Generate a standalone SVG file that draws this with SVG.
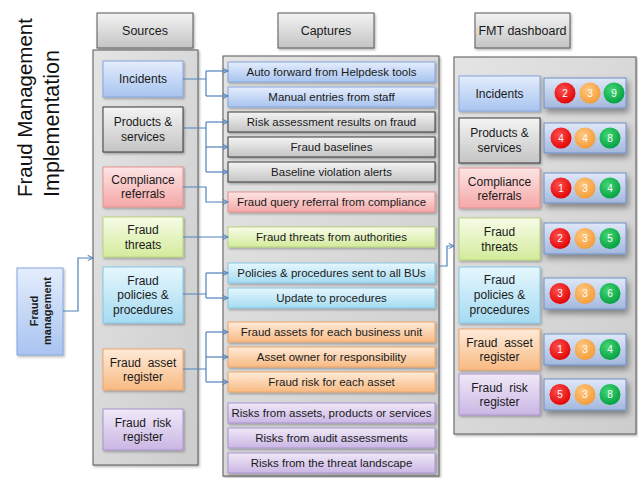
<svg xmlns="http://www.w3.org/2000/svg" width="638" height="478" viewBox="0 0 638 478">
<defs>
<style>
text{font-family:"Liberation Sans",Arial,sans-serif;fill:#1a1a1a;}
.t{font-size:12px;text-anchor:middle;}
.c{font-size:11.5px;text-anchor:middle;}
.h{font-size:12.5px;text-anchor:middle;}
.n{font-size:10px;text-anchor:middle;fill:#fff;}
.title{fill:#111;}
.cont{fill:url(#gCont);stroke:#595959;stroke-width:1;filter:url(#sh);}
.hdr{fill:url(#gHdr);stroke:#595959;stroke-width:1;filter:url(#sh);}
.b{fill:url(#gB);stroke:#86a6dc;filter:url(#sh);}
.g{fill:url(#gG);stroke:#3a3a3a;filter:url(#sh);}
.r{fill:url(#gR);stroke:#e59191;filter:url(#sh);}
.gr{fill:url(#gGr);stroke:#b8d67f;filter:url(#sh);}
.cy{fill:url(#gC);stroke:#85c7e5;filter:url(#sh);}
.o{fill:url(#gO);stroke:#eea66a;filter:url(#sh);}
.p{fill:url(#gP);stroke:#aa94cf;filter:url(#sh);}
.ind{fill:url(#gInd);stroke:#6f8fc4;filter:url(#sh2);}
.cr{fill:url(#gRed);}
.co{fill:url(#gOra);}
.cg{fill:url(#gGrn);}
.ln{fill:none;stroke:#4f81bd;stroke-width:1.2;}
.ar{fill:none;stroke:#4f81bd;stroke-width:1.2;marker-end:url(#arr);}
</style>
<linearGradient id="gCont" x1="0" y1="0" x2="1" y2="1"><stop offset="0" stop-color="#e4e4e4"/><stop offset="1" stop-color="#cdcdcd"/></linearGradient>
<linearGradient id="gHdr" x1="0" y1="0" x2="0" y2="1"><stop offset="0" stop-color="#f3f3f3"/><stop offset="1" stop-color="#c4c4c4"/></linearGradient>
<linearGradient id="gB" x1="0" y1="0" x2="0" y2="1"><stop offset="0" stop-color="#e4edfc"/><stop offset="1" stop-color="#a8c4f0"/></linearGradient>
<linearGradient id="gG" x1="0" y1="0" x2="0" y2="1"><stop offset="0" stop-color="#f4f4f4"/><stop offset="1" stop-color="#c4c4c4"/></linearGradient>
<linearGradient id="gR" x1="0" y1="0" x2="0" y2="1"><stop offset="0" stop-color="#fde5e5"/><stop offset="1" stop-color="#f5a7a7"/></linearGradient>
<linearGradient id="gGr" x1="0" y1="0" x2="0" y2="1"><stop offset="0" stop-color="#f7fce8"/><stop offset="1" stop-color="#d3eb9b"/></linearGradient>
<linearGradient id="gC" x1="0" y1="0" x2="0" y2="1"><stop offset="0" stop-color="#e6f7fd"/><stop offset="1" stop-color="#a5dbf2"/></linearGradient>
<linearGradient id="gO" x1="0" y1="0" x2="0" y2="1"><stop offset="0" stop-color="#feebd9"/><stop offset="1" stop-color="#f8ba83"/></linearGradient>
<linearGradient id="gP" x1="0" y1="0" x2="0" y2="1"><stop offset="0" stop-color="#f0e9f8"/><stop offset="1" stop-color="#cab6e4"/></linearGradient>
<linearGradient id="gInd" x1="0" y1="0" x2="0" y2="1"><stop offset="0" stop-color="#dfe8f8"/><stop offset="1" stop-color="#a4b8dd"/></linearGradient>
<radialGradient id="gRed" cx="0.4" cy="0.35" r="0.7"><stop offset="0" stop-color="#ff5050"/><stop offset="1" stop-color="#e00000"/></radialGradient>
<radialGradient id="gOra" cx="0.4" cy="0.35" r="0.7"><stop offset="0" stop-color="#ffc880"/><stop offset="1" stop-color="#f39a35"/></radialGradient>
<radialGradient id="gGrn" cx="0.4" cy="0.35" r="0.7"><stop offset="0" stop-color="#45d673"/><stop offset="1" stop-color="#009e40"/></radialGradient>
<filter id="sh" x="-10%" y="-10%" width="130%" height="130%"><feDropShadow dx="1.2" dy="1.5" stdDeviation="1" flood-color="#000" flood-opacity="0.3"/></filter>
<filter id="sh2" x="-20%" y="-30%" width="150%" height="190%"><feDropShadow dx="2" dy="4" stdDeviation="3" flood-color="#000" flood-opacity="0.4"/></filter>
<marker id="arr" viewBox="0 0 8 8" refX="7" refY="4" markerWidth="7" markerHeight="7" markerUnits="userSpaceOnUse" orient="auto"><path d="M1,1 L7,4 L1,7" fill="none" stroke="#4f81bd" stroke-width="1.2"/></marker>
</defs>
<rect width="638" height="478" fill="#fff"/>

<g id="title">
<text class="title" transform="translate(32,197) rotate(-90)" style="font-size:20.5px">Fraud Management</text>
<text class="title" transform="translate(59,197) rotate(-90)" style="font-size:21.5px">Implementation</text>
</g>

<g id="fraud-management">
<rect class="b" x="17" y="268" width="46" height="87"/>
<text transform="translate(38,311) rotate(-90)" style="font-size:11px;font-weight:bold;text-anchor:middle">Fraud</text>
<text transform="translate(51,311) rotate(-90)" style="font-size:11px;font-weight:bold;text-anchor:middle">management</text>
</g>

<!-- Sources column -->
<g id="sources-header"><rect class="hdr" x="97" y="13" width="96" height="35"/><text class="h" x="145" y="35">Sources</text></g>
<g id="sources"><rect class="cont" x="93" y="50" width="105" height="415"/></g>
<g id="src-incidents"><rect class="b" x="103" y="61" width="80" height="36"/><text class="t" x="143" y="83">Incidents</text></g>
<g id="src-products"><rect class="g" x="103" y="107" width="80" height="45"/><text class="t" x="143" y="126">Products &amp;</text><text class="t" x="143" y="141">services</text></g>
<g id="src-compliance"><rect class="r" x="103" y="167" width="80" height="40"/><text class="t" x="143" y="184">Compliance</text><text class="t" x="143" y="198">referrals</text></g>
<g id="src-threats"><rect class="gr" x="103" y="217" width="80" height="40"/><text class="t" x="143" y="234">Fraud</text><text class="t" x="143" y="249">threats</text></g>
<g id="src-policies"><rect class="cy" x="103" y="267" width="80" height="56"/><text class="t" x="143" y="285">Fraud</text><text class="t" x="143" y="299">policies &amp;</text><text class="t" x="143" y="314">procedures</text></g>
<g id="src-asset"><rect class="o" x="103" y="349" width="80" height="41"/><text class="t" x="143" y="367" xml:space="preserve">Fraud  asset</text><text class="t" x="143" y="381">register</text></g>
<g id="src-risk"><rect class="p" x="103" y="409" width="80" height="41"/><text class="t" x="143" y="427" xml:space="preserve">Fraud  risk</text><text class="t" x="143" y="441">register</text></g>

<!-- Captures column -->
<g id="captures-header"><rect class="hdr" x="278" y="13" width="96" height="35"/><text class="h" x="326" y="35">Captures</text></g>
<g id="captures"><rect class="cont" x="223" y="56" width="216" height="420"/></g>
<g id="cap-1"><rect class="b" x="228" y="62" width="207" height="20"/><text class="c" x="331.5" y="76">Auto forward from Helpdesk tools</text></g>
<g id="cap-2"><rect class="b" x="228" y="87" width="207" height="20"/><text class="c" x="331.5" y="101">Manual entries from staff</text></g>
<g id="cap-3"><rect class="g" x="228" y="112" width="207" height="20"/><text class="c" x="331.5" y="126">Risk assessment results on fraud</text></g>
<g id="cap-4"><rect class="g" x="228" y="137" width="207" height="20"/><text class="c" x="331.5" y="151">Fraud baselines</text></g>
<g id="cap-5"><rect class="g" x="228" y="162" width="207" height="20"/><text class="c" x="331.5" y="176">Baseline violation alerts</text></g>
<g id="cap-6"><rect class="r" x="228" y="192" width="207" height="20"/><text class="c" x="331.5" y="206">Fraud query referral from compliance</text></g>
<g id="cap-7"><rect class="gr" x="228" y="227" width="207" height="20"/><text class="c" x="331.5" y="241">Fraud threats from authorities</text></g>
<g id="cap-8"><rect class="cy" x="228" y="263" width="207" height="20"/><text class="c" x="331.5" y="277">Policies &amp; procedures sent to all BUs</text></g>
<g id="cap-9"><rect class="cy" x="228" y="288" width="207" height="20"/><text class="c" x="331.5" y="302">Update to procedures</text></g>
<g id="cap-10"><rect class="o" x="228" y="322" width="207" height="20"/><text class="c" x="331.5" y="336">Fraud assets for each business unit</text></g>
<g id="cap-11"><rect class="o" x="228" y="347" width="207" height="20"/><text class="c" x="331.5" y="361">Asset owner for responsibility</text></g>
<g id="cap-12"><rect class="o" x="228" y="372" width="207" height="20"/><text class="c" x="331.5" y="386">Fraud risk for each asset</text></g>
<g id="cap-13"><rect class="p" x="228" y="403" width="207" height="20"/><text class="c" x="331.5" y="417">Risks from assets, products or services</text></g>
<g id="cap-14"><rect class="p" x="228" y="428" width="207" height="20"/><text class="c" x="331.5" y="442">Risks from audit assessments</text></g>
<g id="cap-15"><rect class="p" x="228" y="453" width="207" height="20"/><text class="c" x="331.5" y="467">Risks from the threat landscape</text></g>

<!-- Dashboard column -->
<g id="dashboard-header"><rect class="hdr" x="475" y="13" width="95" height="35"/><text class="h" x="522.5" y="35">FMT dashboard</text></g>
<g id="dashboard"><rect class="cont" x="454" y="57" width="182" height="377"/></g>
<g id="dash-incidents"><rect class="b" x="459" y="76" width="81" height="35"/><text class="t" x="499.5" y="98">Incidents</text>
<rect class="ind" x="544" y="78" width="82" height="30"/>
<circle class="cr" cx="565" cy="93" r="10.5"/><text class="n" x="565" y="96.5">2</text>
<circle class="co" cx="590" cy="93" r="10.5"/><text class="n" x="590" y="96.5">3</text>
<circle class="cg" cx="614" cy="93" r="10.5"/><text class="n" x="614" y="96.5">9</text></g>
<g id="dash-products"><rect class="g" x="459" y="118" width="81" height="45"/><text class="t" x="499.5" y="137">Products &amp;</text><text class="t" x="499.5" y="152">services</text>
<rect class="ind" x="544" y="123" width="82" height="30"/>
<circle class="cr" cx="561" cy="138" r="10.5"/><text class="n" x="561" y="141.5">4</text>
<circle class="co" cx="585" cy="138" r="10.5"/><text class="n" x="585" y="141.5">4</text>
<circle class="cg" cx="610" cy="138" r="10.5"/><text class="n" x="610" y="141.5">8</text></g>
<g id="dash-compliance"><rect class="r" x="459" y="168" width="81" height="40"/><text class="t" x="499.5" y="186">Compliance</text><text class="t" x="499.5" y="200">referrals</text>
<rect class="ind" x="544" y="173" width="82" height="30"/>
<circle class="cr" cx="561" cy="188" r="10.5"/><text class="n" x="561" y="191.5">1</text>
<circle class="co" cx="585" cy="188" r="10.5"/><text class="n" x="585" y="191.5">3</text>
<circle class="cg" cx="610" cy="188" r="10.5"/><text class="n" x="610" y="191.5">4</text></g>
<g id="dash-threats"><rect class="gr" x="459" y="218" width="81" height="42"/><text class="t" x="499.5" y="236">Fraud</text><text class="t" x="499.5" y="251">threats</text>
<rect class="ind" x="544" y="223" width="82" height="31"/>
<circle class="cr" cx="560" cy="238.5" r="10.5"/><text class="n" x="560" y="242">2</text>
<circle class="co" cx="585" cy="238.5" r="10.5"/><text class="n" x="585" y="242">3</text>
<circle class="cg" cx="610" cy="238.5" r="10.5"/><text class="n" x="610" y="242">5</text></g>
<g id="dash-policies"><rect class="cy" x="459" y="267" width="81" height="56"/><text class="t" x="499.5" y="284">Fraud</text><text class="t" x="499.5" y="299">policies &amp;</text><text class="t" x="499.5" y="314">procedures</text>
<rect class="ind" x="544" y="278" width="82" height="31"/>
<circle class="cr" cx="560" cy="293.5" r="10.5"/><text class="n" x="560" y="297">3</text>
<circle class="co" cx="585" cy="293.5" r="10.5"/><text class="n" x="585" y="297">3</text>
<circle class="cg" cx="610" cy="293.5" r="10.5"/><text class="n" x="610" y="297">6</text></g>
<g id="dash-asset"><rect class="o" x="459" y="329" width="81" height="41"/><text class="t" x="499.5" y="347" xml:space="preserve">Fraud  asset</text><text class="t" x="499.5" y="361">register</text>
<rect class="ind" x="544" y="334" width="82" height="31"/>
<circle class="cr" cx="560" cy="349.5" r="10.5"/><text class="n" x="560" y="353">1</text>
<circle class="co" cx="585" cy="349.5" r="10.5"/><text class="n" x="585" y="353">3</text>
<circle class="cg" cx="610" cy="349.5" r="10.5"/><text class="n" x="610" y="353">4</text></g>
<g id="dash-risk"><rect class="p" x="459" y="374" width="81" height="41"/><text class="t" x="499.5" y="392" xml:space="preserve">Fraud  risk</text><text class="t" x="499.5" y="406">register</text>
<rect class="ind" x="544" y="379" width="82" height="31"/>
<circle class="cr" cx="560" cy="394.5" r="10.5"/><text class="n" x="560" y="398">5</text>
<circle class="co" cx="585" cy="394.5" r="10.5"/><text class="n" x="585" y="398">3</text>
<circle class="cg" cx="610" cy="394.5" r="10.5"/><text class="n" x="610" y="398">8</text></g>

<g id="connectors">
<path class="ar" d="M63,311 H78 V258 H93"/>
<path class="ln" d="M183,79 H206 M206,71 V96"/>
<path class="ar" d="M206,71 H228"/>
<path class="ar" d="M206,96 H228"/>
<path class="ln" d="M183,128 H206 M206,122 V172"/>
<path class="ar" d="M206,122 H228"/>
<path class="ar" d="M206,147 H228"/>
<path class="ar" d="M206,172 H228"/>
<path class="ar" d="M183,187 H206 V202 H228"/>
<path class="ar" d="M183,237 H228"/>
<path class="ln" d="M183,294 H206 M206,273 V298"/>
<path class="ar" d="M206,273 H228"/>
<path class="ar" d="M206,298 H228"/>
<path class="ln" d="M183,369 H206 M206,332 V382"/>
<path class="ar" d="M206,332 H228"/>
<path class="ar" d="M206,357 H228"/>
<path class="ar" d="M206,382 H228"/>
<path class="ar" d="M439,266 H447 V246 H454"/>
</g>
</svg>
